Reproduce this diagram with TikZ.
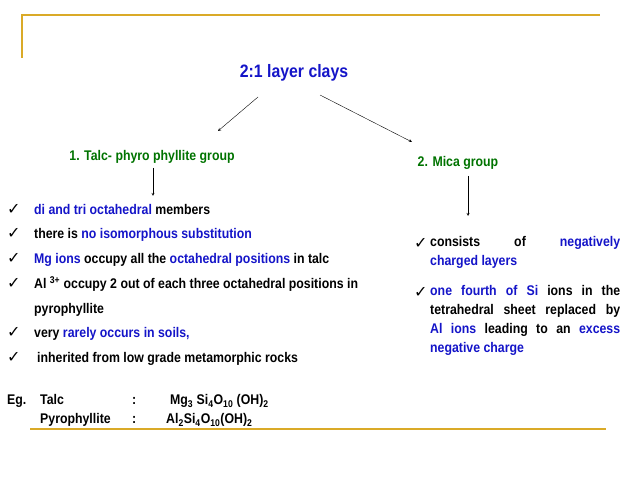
\documentclass[tikz,border=0pt]{standalone}
\usepackage{fontspec}
\setmainfont{Liberation Sans}[FakeStretch=0.88,BoldFont={* Bold}]
\newfontfamily\symf{DejaVu Sans}
\begin{document}
\begin{tikzpicture}[x=1pt,y=-1pt,
  txt/.style={anchor=base west,inner sep=0,font=\bfseries\fontsize{14}{16}\selectfont},
  grn/.style={txt,text=green!45!black},
  ck/.style={anchor=base west,inner sep=0,font=\symf\bfseries\fontsize{16}{18}\selectfont},
  arr/.style={-stealth,thin}]
\definecolor{bl}{RGB}{20,20,200}
\definecolor{gold}{RGB}{218,170,40}
\useasboundingbox (0,0) rectangle (638,478);
\draw[gold,line width=1.2] (22,58) -- (22,15) -- (600,15);
\draw[gold,line width=1.2] (30,429) -- (606,429);
\node[txt,anchor=center,text=bl,font=\bfseries\fontsize{18}{20}\selectfont] (t) at (294,73) {2:1 layer clays};
\node[grn,anchor=center] (a) at (152,157) {1. Talc- phyro phyllite group};
\node[grn,anchor=center] (b) at (458,163) {2. Mica group};
\coordinate (l1) at (258,97); \coordinate (l2) at (218,131);
\coordinate (r1) at (320,95); \coordinate (r2) at (412,142);
\draw[arr] (l1) -- (l2); \draw[arr] (r1) -- (r2);
\coordinate (d1) at (153,196); \coordinate (d2) at (468,216);
\draw[arr] (a.south -| d1) ++(0,4) -- (d1);
\draw[arr] (b.south -| d2) ++(0,6) -- (d2);
\foreach \y in {215,239,264,289,338,363} \node[ck] at (7,\y) {✓};
\node[txt] (p1) at (34,215) {\textcolor{bl}{di and tri octahedral} members};
\node[txt] (p2) at (34,239) {there is \textcolor{bl}{no isomorphous substitution}};
\node[txt] (p3) at (34,264) {\textcolor{bl}{Mg ions} occupy all the \textcolor{bl}{octahedral positions} in talc};
\node[txt] (p4) at (34,289) {Al \textsuperscript{3+} occupy 2 out of each three octahedral positions in};
\node[txt] (p4b) at (34,314) {pyrophyllite};
\node[txt] (p5) at (34,338) {very \textcolor{bl}{rarely occurs in soils,}};
\node[txt] (p6) at (37,363) {inherited from low grade metamorphic rocks};
\node[txt] (e1) at (7,405) {Eg.};
\node[txt] (e2) at (40,405) {Talc};
\node[txt] (e3) at (132,405) {:};
\node[txt] (e4) at (170,405) {Mg\textsubscript{3} Si\textsubscript{4}O\textsubscript{10} (OH)\textsubscript{2}};
\node[txt] (f2) at (40,424) {Pyrophyllite};
\node[txt] (f3) at (132,424) {:};
\node[txt] (f4) at (166,424) {Al\textsubscript{2}Si\textsubscript{4}O\textsubscript{10}(OH)\textsubscript{2}};
\node[ck] at (414,249) {✓};
\node[ck] at (414,298) {✓};
\node[txt,anchor=north west,text width=190pt,align=justify,font=\bfseries\fontsize{14}{19}\selectfont] (m1) at (430,236) {\hyphenpenalty=10000 consists of \textcolor{bl}{negatively}\linebreak \textcolor{bl}{charged layers}};
\node[txt,anchor=north west,text width=190pt,align=justify,font=\bfseries\fontsize{14}{19}\selectfont] (m2) at (430,285) {\hyphenpenalty=10000 \textcolor{bl}{one fourth of Si} ions in the\linebreak tetrahedral sheet replaced by\linebreak \textcolor{bl}{Al ions} leading to an \textcolor{bl}{excess}\linebreak \textcolor{bl}{negative charge}};
\end{tikzpicture}
\end{document}
